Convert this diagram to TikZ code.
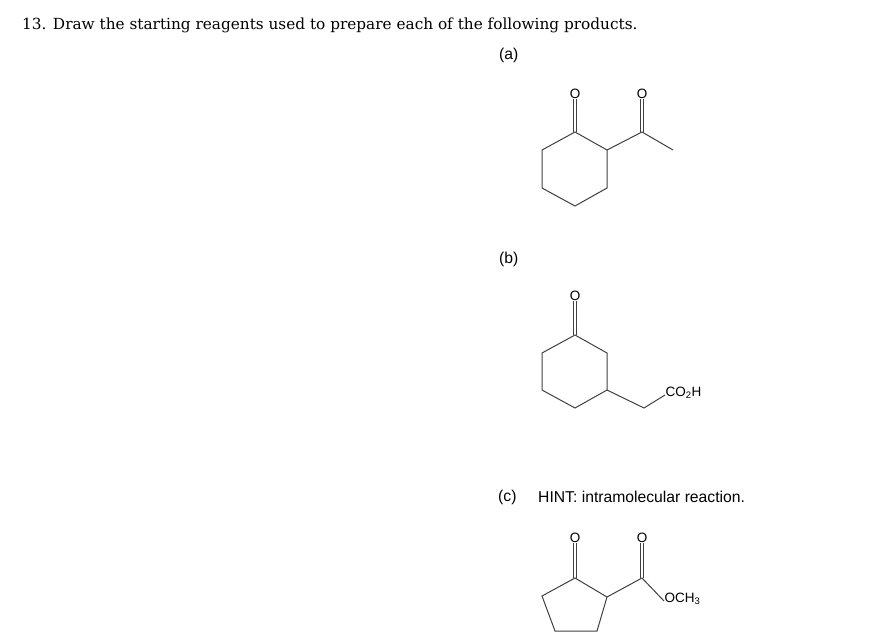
\documentclass[tikz,border=0pt]{standalone}
\usepackage{fontspec}
\setmainfont{DejaVu Serif}
\newfontfamily\lsans{Liberation Sans}
\begin{document}
\begin{tikzpicture}[x=1pt,y=-1pt,
  bond/.style={line width=1pt,draw=black!75},
  atom/.style={font=\lsans\fontsize{13.5}{16}\selectfont,inner sep=0.5pt},
  lbl/.style={font=\lsans\fontsize{15.7}{18}\selectfont,inner sep=0pt,anchor=west}]
\useasboundingbox (0,0) rectangle (888,640);
\node[anchor=west,inner sep=0pt,font=\fontsize{15.3}{18}\selectfont] (t) at (22,25) {13. Draw the starting reagents used to prepare each of the following products.};
\node[lbl] (la) at (499,55) {(a)};
\node[lbl] (lb) at (499,259) {(b)};
\node[lbl] (lc) at (498,497) {(c)};
\node[lbl] (hint) at (538,497) {HINT: intramolecular reaction.};
% (a)
\coordinate (a1) at (575,132); \coordinate (a2) at (607,150); \coordinate (a3) at (607,188);
\coordinate (a4) at (575,206); \coordinate (a5) at (542,188); \coordinate (a6) at (542,150);
\coordinate (a7) at (642,132); \coordinate (a8) at (673,150);
\node[atom] (ao1) at (575,94) {O}; \node[atom] (ao2) at (642,94) {O};
\draw[bond] (a1)--(a2)--(a3)--(a4)--(a5)--(a6)--cycle;
\draw[bond] (a2)--(a7)--(a8);
\draw[bond] ([xshift=-1.6]a1)--([xshift=-1.6]ao1.south); \draw[bond] ([xshift=1.6]a1)--([xshift=1.6]ao1.south);
\draw[bond] ([xshift=-1.6]a7)--([xshift=-1.6]ao2.south); \draw[bond] ([xshift=1.6]a7)--([xshift=1.6]ao2.south);
% (b)
\coordinate (b1) at (575,335); \coordinate (b2) at (607,353); \coordinate (b3) at (607,390);
\coordinate (b4) at (575,408); \coordinate (b5) at (542,390); \coordinate (b6) at (542,353);
\coordinate (b7) at (644,408);
\node[atom] (bo) at (575,296) {O};
\node[atom,anchor=west] (bco) at (665,393) {CO\textsubscript{2}H};
\draw[bond] (b1)--(b2)--(b3)--(b4)--(b5)--(b6)--cycle;
\draw[bond] (b3)--(b7)--([yshift=-2]bco.west);
\draw[bond] ([xshift=-1.6]b1)--([xshift=-1.6]bo.south); \draw[bond] ([xshift=1.6]b1)--([xshift=1.6]bo.south);
% (c)
\coordinate (c1) at (575,578); \coordinate (c2) at (607,597); \coordinate (c3) at (597,631);
\coordinate (c4) at (555,631); \coordinate (c5) at (542,596);
\coordinate (c6) at (642,578);
\node[atom] (co1) at (575,538) {O}; \node[atom] (co2) at (642,538) {O};
\node[atom,anchor=west] (coch) at (664,599) {OCH\textsubscript{3}};
\draw[bond] (c1)--(c2)--(c3)--(c4)--(c5)--cycle;
\draw[bond] (c2)--(c6)--([yshift=-2]coch.west);
\draw[bond] ([xshift=-1.6]c1)--([xshift=-1.6]co1.south); \draw[bond] ([xshift=1.6]c1)--([xshift=1.6]co1.south);
\draw[bond] ([xshift=-1.6]c6)--([xshift=-1.6]co2.south); \draw[bond] ([xshift=1.6]c6)--([xshift=1.6]co2.south);
\end{tikzpicture}
\end{document}
